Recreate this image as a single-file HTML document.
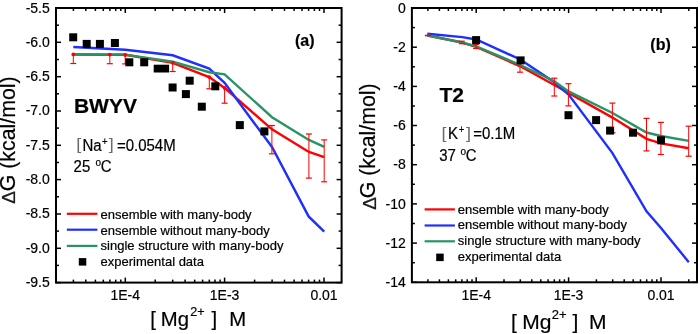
<!DOCTYPE html>
<html><head><meta charset="utf-8"><style>html,body{margin:0;padding:0;background:#fff;width:700px;height:334px;overflow:hidden}svg{display:block}text{stroke:#000;stroke-width:0.2px}</style></head>
<body>
<svg width="700" height="334" viewBox="0 0 700 334" font-family="'Liberation Sans', sans-serif">
<rect width="700" height="334" fill="#fff"/>
<polyline points="73.3,54.5 125.3,54.8 172.7,62.8 209.2,77.1 224.6,87.9 272.0,129.3 308.9,151.9 324.2,157.1" fill="none" stroke="#ff0000" stroke-width="2.4" stroke-linejoin="miter" stroke-linecap="butt"/>
<polyline points="73.3,47.0 125.3,49.8 172.7,55.3 209.2,68.5 224.6,82.8 254.5,123.5 272.0,147.0 308.6,216.4 324.2,231.6" fill="none" stroke="#1f2fff" stroke-width="2.4" stroke-linejoin="miter" stroke-linecap="butt"/>
<polyline points="73.3,54.4 125.3,54.6 172.7,61.7 209.2,72.2 224.6,74.4 272.0,117.2 308.9,139.9 324.2,146.8" fill="none" stroke="#289466" stroke-width="2.4" stroke-linejoin="miter" stroke-linecap="butt"/>
<line x1="73.3" y1="54.4" x2="73.3" y2="63.5" stroke="#ff0000" stroke-width="1.0"/>
<line x1="70.3" y1="63.5" x2="76.3" y2="63.5" stroke="#ff0000" stroke-width="1.2"/>
<circle cx="73.3" cy="54.4" r="1.9" fill="#ff0000"/>
<line x1="109.8" y1="54.6" x2="109.8" y2="63.7" stroke="#ff0000" stroke-width="1.0"/>
<line x1="106.8" y1="63.7" x2="112.8" y2="63.7" stroke="#ff0000" stroke-width="1.2"/>
<circle cx="109.8" cy="54.6" r="1.9" fill="#ff0000"/>
<line x1="125.2" y1="55" x2="125.2" y2="63.9" stroke="#ff0000" stroke-width="1.0"/>
<line x1="122.2" y1="63.9" x2="128.2" y2="63.9" stroke="#ff0000" stroke-width="1.2"/>
<circle cx="125.2" cy="55" r="1.9" fill="#ff0000"/>
<line x1="172.7" y1="62.8" x2="172.7" y2="71.5" stroke="#ff0000" stroke-width="1.0"/>
<line x1="169.7" y1="71.5" x2="175.7" y2="71.5" stroke="#ff0000" stroke-width="1.2"/>
<circle cx="172.7" cy="62.8" r="1.9" fill="#ff0000"/>
<line x1="209.3" y1="77.1" x2="209.3" y2="88.8" stroke="#ff0000" stroke-width="1.0"/>
<line x1="206.3" y1="88.8" x2="212.3" y2="88.8" stroke="#ff0000" stroke-width="1.2"/>
<circle cx="209.3" cy="77.1" r="1.9" fill="#ff0000"/>
<line x1="224.6" y1="88" x2="224.6" y2="103.2" stroke="#ff0000" stroke-width="1.0"/>
<line x1="221.6" y1="103.2" x2="227.6" y2="103.2" stroke="#ff0000" stroke-width="1.2"/>
<circle cx="224.6" cy="88" r="1.9" fill="#ff0000"/>
<line x1="271.9" y1="125.5" x2="271.9" y2="153.8" stroke="#ff0000" stroke-width="1.0"/>
<line x1="268.9" y1="125.5" x2="274.9" y2="125.5" stroke="#ff0000" stroke-width="1.2"/>
<line x1="268.9" y1="153.8" x2="274.9" y2="153.8" stroke="#ff0000" stroke-width="1.2"/>
<line x1="308.9" y1="134" x2="308.9" y2="178.1" stroke="#ff0000" stroke-width="1.0"/>
<line x1="305.9" y1="134" x2="311.9" y2="134" stroke="#ff0000" stroke-width="1.2"/>
<line x1="305.9" y1="178.1" x2="311.9" y2="178.1" stroke="#ff0000" stroke-width="1.2"/>
<line x1="324.2" y1="139.9" x2="324.2" y2="181.8" stroke="#ff0000" stroke-width="1.0"/>
<line x1="321.2" y1="139.9" x2="327.2" y2="139.9" stroke="#ff0000" stroke-width="1.2"/>
<line x1="321.2" y1="181.8" x2="327.2" y2="181.8" stroke="#ff0000" stroke-width="1.2"/>
<rect x="69.2" y="33.3" width="8" height="8" fill="#000"/>
<rect x="82.7" y="39.9" width="8" height="8" fill="#000"/>
<rect x="95.9" y="39.9" width="8" height="8" fill="#000"/>
<rect x="110.9" y="39.0" width="8" height="8" fill="#000"/>
<rect x="125.3" y="58.3" width="8" height="8" fill="#000"/>
<rect x="140.2" y="58.3" width="8" height="8" fill="#000"/>
<rect x="168.6" y="83.5" width="8" height="8" fill="#000"/>
<rect x="181.9" y="90.1" width="8" height="8" fill="#000"/>
<rect x="185.7" y="76.7" width="8" height="8" fill="#000"/>
<rect x="197.8" y="102.7" width="8" height="8" fill="#000"/>
<rect x="211.3" y="82.3" width="8" height="8" fill="#000"/>
<rect x="235.8" y="121.1" width="8" height="8" fill="#000"/>
<rect x="260.4" y="127.4" width="8" height="8" fill="#000"/>
<rect x="153.7" y="64.7" width="15.4" height="7.8" fill="#000"/>
<polyline points="427.9,35.5 461.9,42.5 476.2,46.8 520.3,66.3 554.3,85.0 568.6,93.0 612.5,117.6 646.5,138.8 661.0,143.4 688.8,148.2" fill="none" stroke="#ff0000" stroke-width="2.4" stroke-linejoin="miter" stroke-linecap="butt"/>
<polyline points="427.3,33.7 462.3,37.1 476.2,39.5 520.3,59.5 554.3,82.3 568.6,94.5 612.3,152.9 646.5,211.4 661.0,228.0 688.8,262.2" fill="none" stroke="#1f2fff" stroke-width="2.4" stroke-linejoin="miter" stroke-linecap="butt"/>
<polyline points="427.3,35.5 461.9,42.4 476.2,46.4 520.3,65.0 554.3,81.2 568.6,91.4 612.5,113.0 646.5,132.5 661.0,136.0 688.8,140.9" fill="none" stroke="#289466" stroke-width="2.4" stroke-linejoin="miter" stroke-linecap="butt"/>
<line x1="427.9" y1="35.3" x2="427.9" y2="35.7" stroke="#ff0000" stroke-width="1.0"/>
<line x1="424.9" y1="35.3" x2="430.9" y2="35.3" stroke="#ff0000" stroke-width="1.2"/>
<line x1="424.9" y1="35.7" x2="430.9" y2="35.7" stroke="#ff0000" stroke-width="1.2"/>
<line x1="461.8" y1="41.2" x2="461.8" y2="43.7" stroke="#ff0000" stroke-width="1.0"/>
<line x1="458.8" y1="41.2" x2="464.8" y2="41.2" stroke="#ff0000" stroke-width="1.2"/>
<line x1="458.8" y1="43.7" x2="464.8" y2="43.7" stroke="#ff0000" stroke-width="1.2"/>
<line x1="476.1" y1="44.5" x2="476.1" y2="48.5" stroke="#ff0000" stroke-width="1.0"/>
<line x1="473.1" y1="44.5" x2="479.1" y2="44.5" stroke="#ff0000" stroke-width="1.2"/>
<line x1="473.1" y1="48.5" x2="479.1" y2="48.5" stroke="#ff0000" stroke-width="1.2"/>
<line x1="520.0" y1="59.5" x2="520.0" y2="72.2" stroke="#ff0000" stroke-width="1.0"/>
<line x1="517.0" y1="59.5" x2="523.0" y2="59.5" stroke="#ff0000" stroke-width="1.2"/>
<line x1="517.0" y1="72.2" x2="523.0" y2="72.2" stroke="#ff0000" stroke-width="1.2"/>
<line x1="554.3" y1="78.2" x2="554.3" y2="96" stroke="#ff0000" stroke-width="1.0"/>
<line x1="551.3" y1="78.2" x2="557.3" y2="78.2" stroke="#ff0000" stroke-width="1.2"/>
<line x1="551.3" y1="96" x2="557.3" y2="96" stroke="#ff0000" stroke-width="1.2"/>
<line x1="568.4" y1="83.7" x2="568.4" y2="105.9" stroke="#ff0000" stroke-width="1.0"/>
<line x1="565.4" y1="83.7" x2="571.4" y2="83.7" stroke="#ff0000" stroke-width="1.2"/>
<line x1="565.4" y1="105.9" x2="571.4" y2="105.9" stroke="#ff0000" stroke-width="1.2"/>
<line x1="612.4" y1="103.1" x2="612.4" y2="132.7" stroke="#ff0000" stroke-width="1.0"/>
<line x1="609.4" y1="103.1" x2="615.4" y2="103.1" stroke="#ff0000" stroke-width="1.2"/>
<line x1="609.4" y1="132.7" x2="615.4" y2="132.7" stroke="#ff0000" stroke-width="1.2"/>
<line x1="646.5" y1="118.4" x2="646.5" y2="150.9" stroke="#ff0000" stroke-width="1.0"/>
<line x1="643.5" y1="118.4" x2="649.5" y2="118.4" stroke="#ff0000" stroke-width="1.2"/>
<line x1="643.5" y1="150.9" x2="649.5" y2="150.9" stroke="#ff0000" stroke-width="1.2"/>
<line x1="660.9" y1="122.4" x2="660.9" y2="154.5" stroke="#ff0000" stroke-width="1.0"/>
<line x1="657.9" y1="122.4" x2="663.9" y2="122.4" stroke="#ff0000" stroke-width="1.2"/>
<line x1="657.9" y1="154.5" x2="663.9" y2="154.5" stroke="#ff0000" stroke-width="1.2"/>
<line x1="688.7" y1="126.2" x2="688.7" y2="156.2" stroke="#ff0000" stroke-width="1.0"/>
<line x1="685.7" y1="126.2" x2="691.7" y2="126.2" stroke="#ff0000" stroke-width="1.2"/>
<line x1="685.7" y1="156.2" x2="691.7" y2="156.2" stroke="#ff0000" stroke-width="1.2"/>
<rect x="472.1" y="36.1" width="8" height="8" fill="#000"/>
<rect x="516.6" y="56.4" width="8" height="8" fill="#000"/>
<rect x="564.5" y="111.2" width="8" height="8" fill="#000"/>
<rect x="592.1" y="116.1" width="8" height="8" fill="#000"/>
<rect x="606.1" y="126.6" width="8" height="8" fill="#000"/>
<rect x="629.0" y="128.7" width="8" height="8" fill="#000"/>
<rect x="657.0" y="136.3" width="8" height="8" fill="#000"/>
<rect x="56" y="8" width="285.6" height="274.6" fill="none" stroke="#000" stroke-width="2"/>
<line x1="73.4" y1="282.6" x2="73.4" y2="279.6" stroke="#000" stroke-width="1.5"/>
<line x1="73.4" y1="8" x2="73.4" y2="11" stroke="#000" stroke-width="1.5"/>
<line x1="85.8" y1="282.6" x2="85.8" y2="279.6" stroke="#000" stroke-width="1.5"/>
<line x1="85.8" y1="8" x2="85.8" y2="11" stroke="#000" stroke-width="1.5"/>
<line x1="95.4" y1="282.6" x2="95.4" y2="279.6" stroke="#000" stroke-width="1.5"/>
<line x1="95.4" y1="8" x2="95.4" y2="11" stroke="#000" stroke-width="1.5"/>
<line x1="103.3" y1="282.6" x2="103.3" y2="279.6" stroke="#000" stroke-width="1.5"/>
<line x1="103.3" y1="8" x2="103.3" y2="11" stroke="#000" stroke-width="1.5"/>
<line x1="109.9" y1="282.6" x2="109.9" y2="279.6" stroke="#000" stroke-width="1.5"/>
<line x1="109.9" y1="8" x2="109.9" y2="11" stroke="#000" stroke-width="1.5"/>
<line x1="115.7" y1="282.6" x2="115.7" y2="279.6" stroke="#000" stroke-width="1.5"/>
<line x1="115.7" y1="8" x2="115.7" y2="11" stroke="#000" stroke-width="1.5"/>
<line x1="120.8" y1="282.6" x2="120.8" y2="279.6" stroke="#000" stroke-width="1.5"/>
<line x1="120.8" y1="8" x2="120.8" y2="11" stroke="#000" stroke-width="1.5"/>
<line x1="125.3" y1="282.6" x2="125.3" y2="277.6" stroke="#000" stroke-width="1.5"/>
<line x1="125.3" y1="8" x2="125.3" y2="13" stroke="#000" stroke-width="1.5"/>
<line x1="155.2" y1="282.6" x2="155.2" y2="279.6" stroke="#000" stroke-width="1.5"/>
<line x1="155.2" y1="8" x2="155.2" y2="11" stroke="#000" stroke-width="1.5"/>
<line x1="172.7" y1="282.6" x2="172.7" y2="279.6" stroke="#000" stroke-width="1.5"/>
<line x1="172.7" y1="8" x2="172.7" y2="11" stroke="#000" stroke-width="1.5"/>
<line x1="185.1" y1="282.6" x2="185.1" y2="279.6" stroke="#000" stroke-width="1.5"/>
<line x1="185.1" y1="8" x2="185.1" y2="11" stroke="#000" stroke-width="1.5"/>
<line x1="194.7" y1="282.6" x2="194.7" y2="279.6" stroke="#000" stroke-width="1.5"/>
<line x1="194.7" y1="8" x2="194.7" y2="11" stroke="#000" stroke-width="1.5"/>
<line x1="202.6" y1="282.6" x2="202.6" y2="279.6" stroke="#000" stroke-width="1.5"/>
<line x1="202.6" y1="8" x2="202.6" y2="11" stroke="#000" stroke-width="1.5"/>
<line x1="209.3" y1="282.6" x2="209.3" y2="279.6" stroke="#000" stroke-width="1.5"/>
<line x1="209.3" y1="8" x2="209.3" y2="11" stroke="#000" stroke-width="1.5"/>
<line x1="215.0" y1="282.6" x2="215.0" y2="279.6" stroke="#000" stroke-width="1.5"/>
<line x1="215.0" y1="8" x2="215.0" y2="11" stroke="#000" stroke-width="1.5"/>
<line x1="220.1" y1="282.6" x2="220.1" y2="279.6" stroke="#000" stroke-width="1.5"/>
<line x1="220.1" y1="8" x2="220.1" y2="11" stroke="#000" stroke-width="1.5"/>
<line x1="224.6" y1="282.6" x2="224.6" y2="277.6" stroke="#000" stroke-width="1.5"/>
<line x1="224.6" y1="8" x2="224.6" y2="13" stroke="#000" stroke-width="1.5"/>
<line x1="254.6" y1="282.6" x2="254.6" y2="279.6" stroke="#000" stroke-width="1.5"/>
<line x1="254.6" y1="8" x2="254.6" y2="11" stroke="#000" stroke-width="1.5"/>
<line x1="272.1" y1="282.6" x2="272.1" y2="279.6" stroke="#000" stroke-width="1.5"/>
<line x1="272.1" y1="8" x2="272.1" y2="11" stroke="#000" stroke-width="1.5"/>
<line x1="284.5" y1="282.6" x2="284.5" y2="279.6" stroke="#000" stroke-width="1.5"/>
<line x1="284.5" y1="8" x2="284.5" y2="11" stroke="#000" stroke-width="1.5"/>
<line x1="294.1" y1="282.6" x2="294.1" y2="279.6" stroke="#000" stroke-width="1.5"/>
<line x1="294.1" y1="8" x2="294.1" y2="11" stroke="#000" stroke-width="1.5"/>
<line x1="302.0" y1="282.6" x2="302.0" y2="279.6" stroke="#000" stroke-width="1.5"/>
<line x1="302.0" y1="8" x2="302.0" y2="11" stroke="#000" stroke-width="1.5"/>
<line x1="308.6" y1="282.6" x2="308.6" y2="279.6" stroke="#000" stroke-width="1.5"/>
<line x1="308.6" y1="8" x2="308.6" y2="11" stroke="#000" stroke-width="1.5"/>
<line x1="314.4" y1="282.6" x2="314.4" y2="279.6" stroke="#000" stroke-width="1.5"/>
<line x1="314.4" y1="8" x2="314.4" y2="11" stroke="#000" stroke-width="1.5"/>
<line x1="319.5" y1="282.6" x2="319.5" y2="279.6" stroke="#000" stroke-width="1.5"/>
<line x1="319.5" y1="8" x2="319.5" y2="11" stroke="#000" stroke-width="1.5"/>
<line x1="324.0" y1="282.6" x2="324.0" y2="277.6" stroke="#000" stroke-width="1.5"/>
<line x1="324.0" y1="8" x2="324.0" y2="13" stroke="#000" stroke-width="1.5"/>
<line x1="56" y1="8.0" x2="61" y2="8.0" stroke="#000" stroke-width="1.5"/>
<line x1="341.6" y1="8.0" x2="336.6" y2="8.0" stroke="#000" stroke-width="1.5"/>
<line x1="56" y1="42.3" x2="61" y2="42.3" stroke="#000" stroke-width="1.5"/>
<line x1="341.6" y1="42.3" x2="336.6" y2="42.3" stroke="#000" stroke-width="1.5"/>
<line x1="56" y1="76.7" x2="61" y2="76.7" stroke="#000" stroke-width="1.5"/>
<line x1="341.6" y1="76.7" x2="336.6" y2="76.7" stroke="#000" stroke-width="1.5"/>
<line x1="56" y1="111.0" x2="61" y2="111.0" stroke="#000" stroke-width="1.5"/>
<line x1="341.6" y1="111.0" x2="336.6" y2="111.0" stroke="#000" stroke-width="1.5"/>
<line x1="56" y1="145.3" x2="61" y2="145.3" stroke="#000" stroke-width="1.5"/>
<line x1="341.6" y1="145.3" x2="336.6" y2="145.3" stroke="#000" stroke-width="1.5"/>
<line x1="56" y1="179.6" x2="61" y2="179.6" stroke="#000" stroke-width="1.5"/>
<line x1="341.6" y1="179.6" x2="336.6" y2="179.6" stroke="#000" stroke-width="1.5"/>
<line x1="56" y1="214.0" x2="61" y2="214.0" stroke="#000" stroke-width="1.5"/>
<line x1="341.6" y1="214.0" x2="336.6" y2="214.0" stroke="#000" stroke-width="1.5"/>
<line x1="56" y1="248.3" x2="61" y2="248.3" stroke="#000" stroke-width="1.5"/>
<line x1="341.6" y1="248.3" x2="336.6" y2="248.3" stroke="#000" stroke-width="1.5"/>
<line x1="56" y1="282.6" x2="61" y2="282.6" stroke="#000" stroke-width="1.5"/>
<line x1="341.6" y1="282.6" x2="336.6" y2="282.6" stroke="#000" stroke-width="1.5"/>
<line x1="56" y1="25.2" x2="59" y2="25.2" stroke="#000" stroke-width="1.5"/>
<line x1="341.6" y1="25.2" x2="338.6" y2="25.2" stroke="#000" stroke-width="1.5"/>
<line x1="56" y1="59.5" x2="59" y2="59.5" stroke="#000" stroke-width="1.5"/>
<line x1="341.6" y1="59.5" x2="338.6" y2="59.5" stroke="#000" stroke-width="1.5"/>
<line x1="56" y1="93.8" x2="59" y2="93.8" stroke="#000" stroke-width="1.5"/>
<line x1="341.6" y1="93.8" x2="338.6" y2="93.8" stroke="#000" stroke-width="1.5"/>
<line x1="56" y1="128.1" x2="59" y2="128.1" stroke="#000" stroke-width="1.5"/>
<line x1="341.6" y1="128.1" x2="338.6" y2="128.1" stroke="#000" stroke-width="1.5"/>
<line x1="56" y1="162.5" x2="59" y2="162.5" stroke="#000" stroke-width="1.5"/>
<line x1="341.6" y1="162.5" x2="338.6" y2="162.5" stroke="#000" stroke-width="1.5"/>
<line x1="56" y1="196.8" x2="59" y2="196.8" stroke="#000" stroke-width="1.5"/>
<line x1="341.6" y1="196.8" x2="338.6" y2="196.8" stroke="#000" stroke-width="1.5"/>
<line x1="56" y1="231.1" x2="59" y2="231.1" stroke="#000" stroke-width="1.5"/>
<line x1="341.6" y1="231.1" x2="338.6" y2="231.1" stroke="#000" stroke-width="1.5"/>
<line x1="56" y1="265.4" x2="59" y2="265.4" stroke="#000" stroke-width="1.5"/>
<line x1="341.6" y1="265.4" x2="338.6" y2="265.4" stroke="#000" stroke-width="1.5"/>
<rect x="411.9" y="8" width="285.1" height="274.3" fill="none" stroke="#000" stroke-width="2"/>
<line x1="427.9" y1="282.3" x2="427.9" y2="279.3" stroke="#000" stroke-width="1.5"/>
<line x1="427.9" y1="8" x2="427.9" y2="11" stroke="#000" stroke-width="1.5"/>
<line x1="439.4" y1="282.3" x2="439.4" y2="279.3" stroke="#000" stroke-width="1.5"/>
<line x1="439.4" y1="8" x2="439.4" y2="11" stroke="#000" stroke-width="1.5"/>
<line x1="448.4" y1="282.3" x2="448.4" y2="279.3" stroke="#000" stroke-width="1.5"/>
<line x1="448.4" y1="8" x2="448.4" y2="11" stroke="#000" stroke-width="1.5"/>
<line x1="455.7" y1="282.3" x2="455.7" y2="279.3" stroke="#000" stroke-width="1.5"/>
<line x1="455.7" y1="8" x2="455.7" y2="11" stroke="#000" stroke-width="1.5"/>
<line x1="461.9" y1="282.3" x2="461.9" y2="279.3" stroke="#000" stroke-width="1.5"/>
<line x1="461.9" y1="8" x2="461.9" y2="11" stroke="#000" stroke-width="1.5"/>
<line x1="467.2" y1="282.3" x2="467.2" y2="279.3" stroke="#000" stroke-width="1.5"/>
<line x1="467.2" y1="8" x2="467.2" y2="11" stroke="#000" stroke-width="1.5"/>
<line x1="472.0" y1="282.3" x2="472.0" y2="279.3" stroke="#000" stroke-width="1.5"/>
<line x1="472.0" y1="8" x2="472.0" y2="11" stroke="#000" stroke-width="1.5"/>
<line x1="476.2" y1="282.3" x2="476.2" y2="277.3" stroke="#000" stroke-width="1.5"/>
<line x1="476.2" y1="8" x2="476.2" y2="13" stroke="#000" stroke-width="1.5"/>
<line x1="504.0" y1="282.3" x2="504.0" y2="279.3" stroke="#000" stroke-width="1.5"/>
<line x1="504.0" y1="8" x2="504.0" y2="11" stroke="#000" stroke-width="1.5"/>
<line x1="520.3" y1="282.3" x2="520.3" y2="279.3" stroke="#000" stroke-width="1.5"/>
<line x1="520.3" y1="8" x2="520.3" y2="11" stroke="#000" stroke-width="1.5"/>
<line x1="531.8" y1="282.3" x2="531.8" y2="279.3" stroke="#000" stroke-width="1.5"/>
<line x1="531.8" y1="8" x2="531.8" y2="11" stroke="#000" stroke-width="1.5"/>
<line x1="540.8" y1="282.3" x2="540.8" y2="279.3" stroke="#000" stroke-width="1.5"/>
<line x1="540.8" y1="8" x2="540.8" y2="11" stroke="#000" stroke-width="1.5"/>
<line x1="548.1" y1="282.3" x2="548.1" y2="279.3" stroke="#000" stroke-width="1.5"/>
<line x1="548.1" y1="8" x2="548.1" y2="11" stroke="#000" stroke-width="1.5"/>
<line x1="554.3" y1="282.3" x2="554.3" y2="279.3" stroke="#000" stroke-width="1.5"/>
<line x1="554.3" y1="8" x2="554.3" y2="11" stroke="#000" stroke-width="1.5"/>
<line x1="559.6" y1="282.3" x2="559.6" y2="279.3" stroke="#000" stroke-width="1.5"/>
<line x1="559.6" y1="8" x2="559.6" y2="11" stroke="#000" stroke-width="1.5"/>
<line x1="564.4" y1="282.3" x2="564.4" y2="279.3" stroke="#000" stroke-width="1.5"/>
<line x1="564.4" y1="8" x2="564.4" y2="11" stroke="#000" stroke-width="1.5"/>
<line x1="568.6" y1="282.3" x2="568.6" y2="277.3" stroke="#000" stroke-width="1.5"/>
<line x1="568.6" y1="8" x2="568.6" y2="13" stroke="#000" stroke-width="1.5"/>
<line x1="596.4" y1="282.3" x2="596.4" y2="279.3" stroke="#000" stroke-width="1.5"/>
<line x1="596.4" y1="8" x2="596.4" y2="11" stroke="#000" stroke-width="1.5"/>
<line x1="612.7" y1="282.3" x2="612.7" y2="279.3" stroke="#000" stroke-width="1.5"/>
<line x1="612.7" y1="8" x2="612.7" y2="11" stroke="#000" stroke-width="1.5"/>
<line x1="624.2" y1="282.3" x2="624.2" y2="279.3" stroke="#000" stroke-width="1.5"/>
<line x1="624.2" y1="8" x2="624.2" y2="11" stroke="#000" stroke-width="1.5"/>
<line x1="633.2" y1="282.3" x2="633.2" y2="279.3" stroke="#000" stroke-width="1.5"/>
<line x1="633.2" y1="8" x2="633.2" y2="11" stroke="#000" stroke-width="1.5"/>
<line x1="640.5" y1="282.3" x2="640.5" y2="279.3" stroke="#000" stroke-width="1.5"/>
<line x1="640.5" y1="8" x2="640.5" y2="11" stroke="#000" stroke-width="1.5"/>
<line x1="646.7" y1="282.3" x2="646.7" y2="279.3" stroke="#000" stroke-width="1.5"/>
<line x1="646.7" y1="8" x2="646.7" y2="11" stroke="#000" stroke-width="1.5"/>
<line x1="652.0" y1="282.3" x2="652.0" y2="279.3" stroke="#000" stroke-width="1.5"/>
<line x1="652.0" y1="8" x2="652.0" y2="11" stroke="#000" stroke-width="1.5"/>
<line x1="656.8" y1="282.3" x2="656.8" y2="279.3" stroke="#000" stroke-width="1.5"/>
<line x1="656.8" y1="8" x2="656.8" y2="11" stroke="#000" stroke-width="1.5"/>
<line x1="661.0" y1="282.3" x2="661.0" y2="277.3" stroke="#000" stroke-width="1.5"/>
<line x1="661.0" y1="8" x2="661.0" y2="13" stroke="#000" stroke-width="1.5"/>
<line x1="688.8" y1="282.3" x2="688.8" y2="279.3" stroke="#000" stroke-width="1.5"/>
<line x1="688.8" y1="8" x2="688.8" y2="11" stroke="#000" stroke-width="1.5"/>
<line x1="411.9" y1="8.0" x2="416.9" y2="8.0" stroke="#000" stroke-width="1.5"/>
<line x1="697" y1="8.0" x2="692" y2="8.0" stroke="#000" stroke-width="1.5"/>
<line x1="411.9" y1="47.2" x2="416.9" y2="47.2" stroke="#000" stroke-width="1.5"/>
<line x1="697" y1="47.2" x2="692" y2="47.2" stroke="#000" stroke-width="1.5"/>
<line x1="411.9" y1="86.4" x2="416.9" y2="86.4" stroke="#000" stroke-width="1.5"/>
<line x1="697" y1="86.4" x2="692" y2="86.4" stroke="#000" stroke-width="1.5"/>
<line x1="411.9" y1="125.5" x2="416.9" y2="125.5" stroke="#000" stroke-width="1.5"/>
<line x1="697" y1="125.5" x2="692" y2="125.5" stroke="#000" stroke-width="1.5"/>
<line x1="411.9" y1="164.7" x2="416.9" y2="164.7" stroke="#000" stroke-width="1.5"/>
<line x1="697" y1="164.7" x2="692" y2="164.7" stroke="#000" stroke-width="1.5"/>
<line x1="411.9" y1="203.9" x2="416.9" y2="203.9" stroke="#000" stroke-width="1.5"/>
<line x1="697" y1="203.9" x2="692" y2="203.9" stroke="#000" stroke-width="1.5"/>
<line x1="411.9" y1="243.1" x2="416.9" y2="243.1" stroke="#000" stroke-width="1.5"/>
<line x1="697" y1="243.1" x2="692" y2="243.1" stroke="#000" stroke-width="1.5"/>
<line x1="411.9" y1="282.3" x2="416.9" y2="282.3" stroke="#000" stroke-width="1.5"/>
<line x1="697" y1="282.3" x2="692" y2="282.3" stroke="#000" stroke-width="1.5"/>
<line x1="411.9" y1="27.6" x2="414.9" y2="27.6" stroke="#000" stroke-width="1.5"/>
<line x1="697" y1="27.6" x2="694" y2="27.6" stroke="#000" stroke-width="1.5"/>
<line x1="411.9" y1="66.8" x2="414.9" y2="66.8" stroke="#000" stroke-width="1.5"/>
<line x1="697" y1="66.8" x2="694" y2="66.8" stroke="#000" stroke-width="1.5"/>
<line x1="411.9" y1="106.0" x2="414.9" y2="106.0" stroke="#000" stroke-width="1.5"/>
<line x1="697" y1="106.0" x2="694" y2="106.0" stroke="#000" stroke-width="1.5"/>
<line x1="411.9" y1="145.1" x2="414.9" y2="145.1" stroke="#000" stroke-width="1.5"/>
<line x1="697" y1="145.1" x2="694" y2="145.1" stroke="#000" stroke-width="1.5"/>
<line x1="411.9" y1="184.3" x2="414.9" y2="184.3" stroke="#000" stroke-width="1.5"/>
<line x1="697" y1="184.3" x2="694" y2="184.3" stroke="#000" stroke-width="1.5"/>
<line x1="411.9" y1="223.5" x2="414.9" y2="223.5" stroke="#000" stroke-width="1.5"/>
<line x1="697" y1="223.5" x2="694" y2="223.5" stroke="#000" stroke-width="1.5"/>
<line x1="411.9" y1="262.7" x2="414.9" y2="262.7" stroke="#000" stroke-width="1.5"/>
<line x1="697" y1="262.7" x2="694" y2="262.7" stroke="#000" stroke-width="1.5"/>
<text x="49.8" y="12.5" font-size="14" text-anchor="end" font-weight="normal" >-5.5</text>
<text x="49.8" y="46.825" font-size="14" text-anchor="end" font-weight="normal" >-6.0</text>
<text x="49.8" y="81.15" font-size="14" text-anchor="end" font-weight="normal" >-6.5</text>
<text x="49.8" y="115.47500000000001" font-size="14" text-anchor="end" font-weight="normal" >-7.0</text>
<text x="49.8" y="149.8" font-size="14" text-anchor="end" font-weight="normal" >-7.5</text>
<text x="49.8" y="184.125" font-size="14" text-anchor="end" font-weight="normal" >-8.0</text>
<text x="49.8" y="218.45000000000002" font-size="14" text-anchor="end" font-weight="normal" >-8.5</text>
<text x="49.8" y="252.77500000000003" font-size="14" text-anchor="end" font-weight="normal" >-9.0</text>
<text x="49.8" y="287.1" font-size="14" text-anchor="end" font-weight="normal" >-9.5</text>
<text x="405.8" y="12.6" font-size="14" text-anchor="end" font-weight="normal" >0</text>
<text x="405.8" y="51.78" font-size="14" text-anchor="end" font-weight="normal" >-2</text>
<text x="405.8" y="90.96" font-size="14" text-anchor="end" font-weight="normal" >-4</text>
<text x="405.8" y="130.14" font-size="14" text-anchor="end" font-weight="normal" >-6</text>
<text x="405.8" y="169.32" font-size="14" text-anchor="end" font-weight="normal" >-8</text>
<text x="405.8" y="208.5" font-size="14" text-anchor="end" font-weight="normal" >-10</text>
<text x="405.8" y="247.67999999999998" font-size="14" text-anchor="end" font-weight="normal" >-12</text>
<text x="405.8" y="286.86" font-size="14" text-anchor="end" font-weight="normal" >-14</text>
<text x="125.3" y="299.6" font-size="14" text-anchor="middle" font-weight="normal" >1E-4</text>
<text x="476.2" y="299.8" font-size="14" text-anchor="middle" font-weight="normal" >1E-4</text>
<text x="224.6" y="299.6" font-size="14" text-anchor="middle" font-weight="normal" >1E-3</text>
<text x="568.6" y="299.8" font-size="14" text-anchor="middle" font-weight="normal" >1E-3</text>
<text x="324.0" y="299.6" font-size="14" text-anchor="middle" font-weight="normal" >0.01</text>
<text x="661.0" y="299.8" font-size="14" text-anchor="middle" font-weight="normal" >0.01</text>
<text transform="translate(15.1,203.8) rotate(-90)" font-size="19" fill="#222">Δ</text>
<text transform="translate(14.9,191.2) rotate(-90)" font-size="21.3">G (kcal/mol)</text>
<text transform="translate(375.59999999999997,209.8) rotate(-90)" font-size="19" fill="#222">Δ</text>
<text transform="translate(375.4,198.2) rotate(-90)" font-size="21.3">G (kcal/mol)</text>
<text x="150.3" y="325.7" font-size="20.3">[</text>
<text x="160.8" y="325.7" font-size="20.3">Mg</text>
<text x="190.2" y="316.2" font-size="12.6">2+</text>
<text x="211.4" y="325.7" font-size="20.3">]</text>
<text x="229.2" y="325.7" font-size="20.3">M</text>
<text x="511.0" y="329.2" font-size="21">[</text>
<text x="522.3" y="329.2" font-size="21">Mg</text>
<text x="551.7" y="319.3" font-size="13.0">2+</text>
<text x="572.4" y="329.2" font-size="21">]</text>
<text x="589.1" y="329.2" font-size="21">M</text>
<text x="295.0" y="45.5" font-size="16" text-anchor="start" font-weight="bold" >(a)</text>
<text x="650.3" y="50.1" font-size="16" text-anchor="start" font-weight="bold" >(b)</text>
<text x="73.9" y="112.8" font-size="21" text-anchor="start" font-weight="bold" >BWYV</text>
<text x="439.4" y="101.5" font-size="21" text-anchor="start" font-weight="bold" >T2</text>
<g transform="translate(0,151.2) scale(1,1.06) translate(0,-151.2)">
<text x="76.2" y="150.39999999999998" font-size="15" fill="#6a6a6a" style="stroke:none" transform="translate(76.2,151.2) scale(1.2,1.0) translate(-76.2,-151.2)">[</text>
<text x="82.5" y="151.2" font-size="15">Na</text>
<text x="101.9" y="144.89999999999998" font-size="9.5" stroke="#000" stroke-width="0.25">+</text>
<text x="109.0" y="150.39999999999998" font-size="15" fill="#6a6a6a" style="stroke:none" transform="translate(109.8,151.2) scale(1.2,1.0) translate(-109.8,-151.2)">]</text>
<text x="116.9" y="151.2" font-size="15">=0.054M</text>
</g>
<g transform="translate(0,172.1) scale(1,1.06) translate(0,-172.1)">
<text x="73.6" y="172.1" font-size="15">25</text>
<text x="95.6" y="166.1" font-size="10">o</text>
<text x="100.8" y="172.1" font-size="15">C</text>
</g>
<g transform="translate(0,139.5) scale(1,1.06) translate(0,-139.5)">
<text x="441.5" y="138.7" font-size="15" fill="#6a6a6a" style="stroke:none" transform="translate(441.5,139.5) scale(1.2,1.0) translate(-441.5,-139.5)">[</text>
<text x="447.9" y="139.5" font-size="15">K</text>
<text x="458.8" y="133.2" font-size="9.5" stroke="#000" stroke-width="0.25">+</text>
<text x="466.09999999999997" y="138.7" font-size="15" fill="#6a6a6a" style="stroke:none" transform="translate(466.9,139.5) scale(1.2,1.0) translate(-466.9,-139.5)">]</text>
<text x="473.2" y="139.5" font-size="15">=0.1M</text>
</g>
<g transform="translate(0,161.1) scale(1,1.06) translate(0,-161.1)">
<text x="439.3" y="161.1" font-size="15">37</text>
<text x="460.6" y="155.1" font-size="10">o</text>
<text x="465.8" y="161.1" font-size="15">C</text>
</g>
<line x1="66.8" y1="213.8" x2="97.4" y2="213.8" stroke="#ff0000" stroke-width="2.2"/>
<line x1="66.8" y1="229.7" x2="97.4" y2="229.7" stroke="#1f2fff" stroke-width="2.2"/>
<line x1="66.8" y1="245.9" x2="97.4" y2="245.9" stroke="#289466" stroke-width="2.2"/>
<rect x="78.8" y="258.1" width="7.5" height="7.5" fill="#000"/>
<text x="100.6" y="218.9" font-size="13" text-anchor="start" font-weight="normal" >ensemble with many-body</text>
<text x="100.6" y="234.6" font-size="13" text-anchor="start" font-weight="normal" >ensemble without many-body</text>
<text x="100.6" y="250.3" font-size="13" text-anchor="start" font-weight="normal" >single structure with many-body</text>
<text x="100.6" y="266.1" font-size="13" text-anchor="start" font-weight="normal" >experimental data</text>
<line x1="424.6" y1="209.4" x2="454.9" y2="209.4" stroke="#ff0000" stroke-width="2.2"/>
<line x1="424.6" y1="225.5" x2="454.9" y2="225.5" stroke="#1f2fff" stroke-width="2.2"/>
<line x1="424.6" y1="241.3" x2="454.9" y2="241.3" stroke="#289466" stroke-width="2.2"/>
<rect x="436.2" y="253.6" width="7.5" height="7.5" fill="#000"/>
<text x="457.8" y="213.7" font-size="13" text-anchor="start" font-weight="normal" >ensemble with many-body</text>
<text x="457.8" y="229.4" font-size="13" text-anchor="start" font-weight="normal" >ensemble without many-body</text>
<text x="457.8" y="245.1" font-size="13" text-anchor="start" font-weight="normal" >single structure with many-body</text>
<text x="457.8" y="260.8" font-size="13" text-anchor="start" font-weight="normal" >experimental data</text>
</svg>
</body></html>
